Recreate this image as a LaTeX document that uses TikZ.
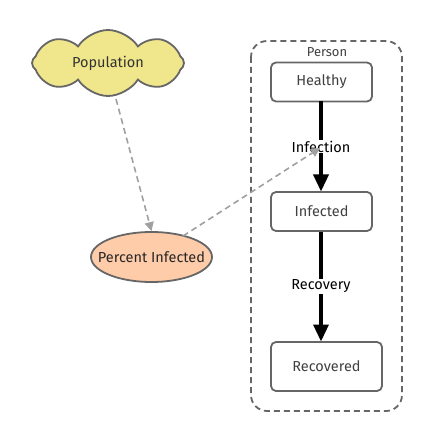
\documentclass[tikz,border=0pt]{standalone}
\usepackage{fontspec}
\setmainfont{Fira Sans}
\usetikzlibrary{shapes.symbols,shapes.geometric,arrows.meta}
\definecolor{khaki}{HTML}{F0E68C}
\definecolor{peach}{HTML}{FFCCA9}
\definecolor{edgegray}{HTML}{666666}
\definecolor{dashgray}{HTML}{A0A0A0}
\tikzset{
  lbl/.style={font=\fontsize{14.5}{17}\selectfont},
  statebox/.style={draw=edgegray, line width=1.8pt, rounded corners=5pt, fill=white, lbl, text=black!75},
  flow/.style={line width=3.5pt, -{Triangle[length=17pt,width=15pt]}},
  link/.style={draw=dashgray, line width=1.6pt, dash pattern=on 6pt off 4pt, -{Triangle[length=9pt,width=9pt]}},
  flowlabel/.style={fill=white, inner sep=1pt, lbl},
}
\begin{document}
\begin{tikzpicture}[x=1pt,y=-1pt]
\useasboundingbox (0,0) rectangle (424,435);
% container
\draw[edgegray, line width=1.8pt, dash pattern=on 6pt off 4pt, rounded corners=16pt] (251,41) rectangle (402,411);
\node[font=\fontsize{13}{15}\selectfont, text=black!75] (person) at (327,52) {Person};
% cloud
\node[cloud, cloud puffs=8, cloud puff arc=115, aspect=2.3, draw=edgegray, line width=1.8pt, fill=khaki, minimum width=152pt, minimum height=66pt, inner sep=-8pt, lbl, text=black!80] (pop) at (108,63) {Population};
% states
\node[statebox, minimum width=101pt, minimum height=39pt] (healthy) at (321.5,82) {Healthy};
\node[statebox, minimum width=101pt, minimum height=39pt] (infected) at (321.5,211.5) {Infected};
\node[statebox, minimum width=111pt, minimum height=49pt] (recovered) at (326.5,366.5) {Recovered};
% ellipse
\node[ellipse, draw=edgegray, line width=1.8pt, fill=peach, minimum width=121pt, minimum height=50pt, inner xsep=-25pt, inner ysep=0pt, lbl, text=black!85] (pct) at (151.5,257) {Percent Infected};
% flows
\coordinate (hbot) at (321,101.5);
\coordinate (itop) at (321,191.5);
\coordinate (ibot) at (321,231.5);
\coordinate (rtop) at (321,341.5);
\draw[flow] (hbot) -- (itop) node[pos=0.5, flowlabel] (inflab) {Infection};
\draw[flow] (ibot) -- (rtop) node[pos=0.5, flowlabel] (reclab) {Recovery};
\coordinate (infmid) at (320,148);
% links
\coordinate (popout) at (116,99);
\coordinate (pctout) at (183,236);
\draw[link] (popout) -- (pct.north);
\draw[link] (pctout) -- (infmid);
\end{tikzpicture}
\end{document}
